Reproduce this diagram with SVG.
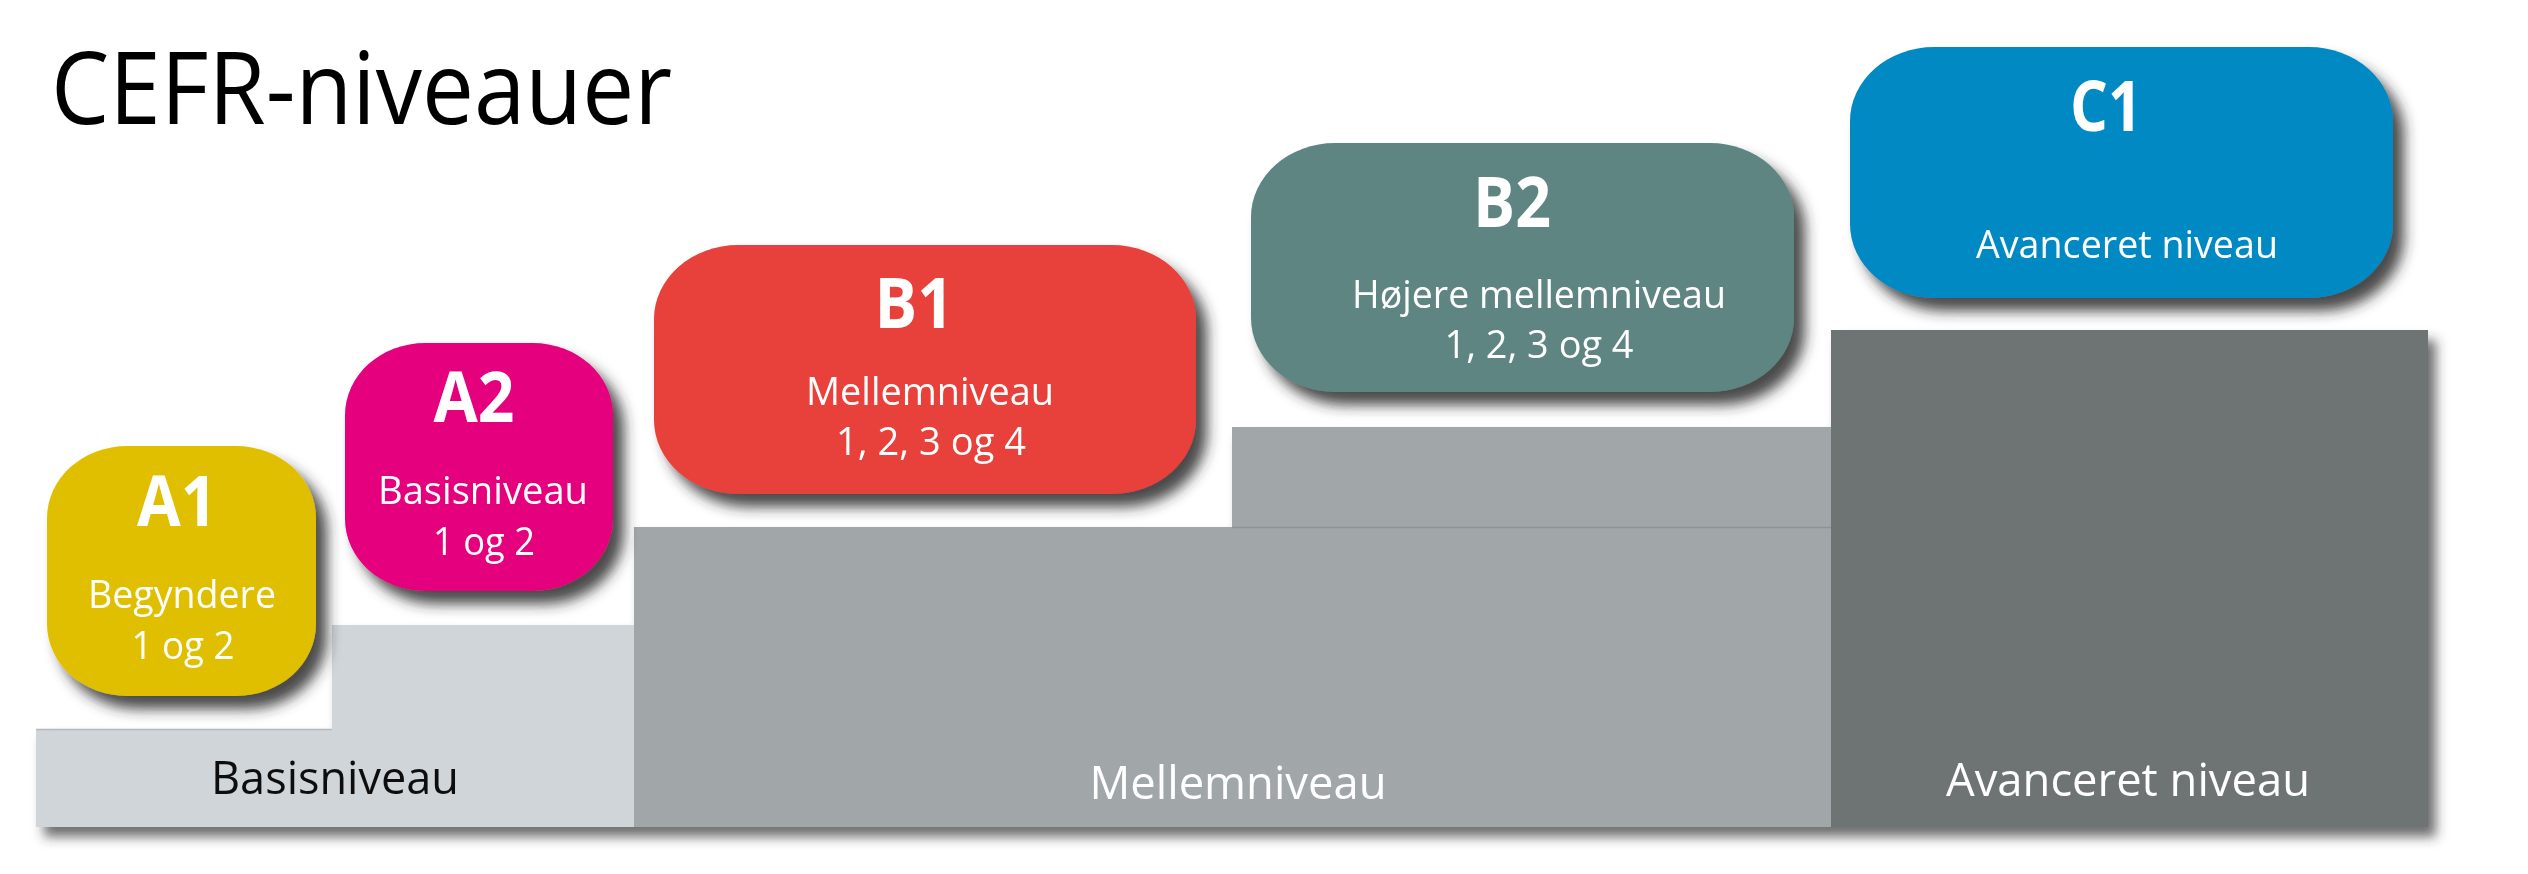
<svg xmlns="http://www.w3.org/2000/svg" width="2528" height="874" viewBox="0 0 2528 874">
  <defs>
    <filter id="shadow" x="-10%" y="-10%" width="125%" height="130%">
      <feDropShadow dx="11" dy="13" stdDeviation="7" flood-color="#2a2a2a" flood-opacity="0.85"/>
    </filter>
    <filter id="baseShadow" x="-5%" y="-10%" width="112%" height="125%">
      <feDropShadow dx="8" dy="10" stdDeviation="6" flood-color="#333" flood-opacity="0.7"/>
    </filter>
  </defs>
  <style>
    .title { font-family: "Open Sans", "Noto Sans", sans-serif; font-size: 100px; fill: #000; }
    .lvl { font-family: "Open Sans", "Noto Sans", sans-serif; font-weight: 700; font-size: 70px; fill: #fff; text-anchor: middle; }
    .sub { font-family: "Open Sans", "Noto Sans", sans-serif; font-weight: 500; font-size: 39px; fill: #fff; text-anchor: middle; }
    .base { font-family: "Open Sans", "Noto Sans", sans-serif; font-weight: 400; font-size: 46px; text-anchor: middle; }
    .light { fill: #D0D5D9; }
    .mid { fill: #A1A6A9; }
    .dark { fill: #6E7373; }
  </style>
  <rect x="0" y="0" width="2528" height="874" fill="#ffffff"/>

  <text class="title" x="51" y="124" textLength="621" lengthAdjust="spacingAndGlyphs">CEFR-niveauer</text>

  <g id="steps" filter="url(#baseShadow)">
    <g id="basisniveau">
      <path class="light" d="M36 729 H332 V625 H634 V827 H36 Z"/>
      <line x1="36" y1="729.5" x2="332" y2="729.5" stroke="#b3b8bc" stroke-width="1.5"/>
      <text class="base" x="335" y="794" fill="#111" textLength="248" lengthAdjust="spacingAndGlyphs">Basisniveau</text>
    </g>
    <g id="mellemniveau">
      <path class="mid" d="M634 527 H1232 V427 H1831 V827 H634 Z"/>
      <line x1="1232" y1="527.5" x2="1831" y2="527.5" stroke="#8e9396" stroke-width="1.5"/>
      <text class="base" x="1238" y="799" fill="#fff" textLength="297" lengthAdjust="spacingAndGlyphs">Mellemniveau</text>
    </g>
    <g id="avanceret-niveau">
      <rect class="dark" x="1831" y="330" width="597" height="497"/>
      <text class="base" x="2128" y="796" fill="#fff" textLength="364" lengthAdjust="spacingAndGlyphs">Avanceret niveau</text>
    </g>
  </g>

  <g id="connectors"/>

  <g id="A1" filter="url(#shadow)">
    <rect x="47" y="446" width="269" height="250" rx="80" ry="72" fill="#E0BF00"/>
    <text class="lvl" x="177" y="526" textLength="80" lengthAdjust="spacingAndGlyphs">A1</text>
    <text class="sub" x="182" y="608" textLength="188" lengthAdjust="spacingAndGlyphs">Begyndere</text>
    <text class="sub" x="183" y="659" textLength="103" lengthAdjust="spacingAndGlyphs">1 og 2</text>
  </g>

  <g id="A2" filter="url(#shadow)">
    <rect x="345" y="343" width="268" height="248" rx="80" ry="72" fill="#E5007D"/>
    <text class="lvl" x="474" y="422" textLength="81" lengthAdjust="spacingAndGlyphs">A2</text>
    <text class="sub" x="483" y="504" textLength="210" lengthAdjust="spacingAndGlyphs">Basisniveau</text>
    <text class="sub" x="484" y="555" textLength="102" lengthAdjust="spacingAndGlyphs">1 og 2</text>
  </g>

  <g id="B1" filter="url(#shadow)">
    <rect x="654" y="245" width="542" height="249" rx="84" ry="74" fill="#E8403A"/>
    <text class="lvl" x="914" y="328" textLength="79" lengthAdjust="spacingAndGlyphs">B1</text>
    <text class="sub" x="930" y="405" textLength="248" lengthAdjust="spacingAndGlyphs">Mellemniveau</text>
    <text class="sub" x="931" y="455" textLength="190" lengthAdjust="spacingAndGlyphs">1, 2, 3 og 4</text>
  </g>

  <g id="B2" filter="url(#shadow)">
    <rect x="1251" y="143" width="543" height="249" rx="84" ry="74" fill="#5F8583"/>
    <text class="lvl" x="1512" y="227" textLength="78" lengthAdjust="spacingAndGlyphs">B2</text>
    <text class="sub" x="1539" y="308" textLength="374" lengthAdjust="spacingAndGlyphs">Højere mellemniveau</text>
    <text class="sub" x="1539" y="358" textLength="189" lengthAdjust="spacingAndGlyphs">1, 2, 3 og 4</text>
  </g>

  <g id="C1" filter="url(#shadow)">
    <rect x="1850" y="47" width="543" height="251" rx="84" ry="74" fill="#0089C3"/>
    <text class="lvl" x="2106" y="131" textLength="72" lengthAdjust="spacingAndGlyphs">C1</text>
    <text class="sub" x="2127" y="258" textLength="302" lengthAdjust="spacingAndGlyphs">Avanceret niveau</text>
  </g>
</svg>
